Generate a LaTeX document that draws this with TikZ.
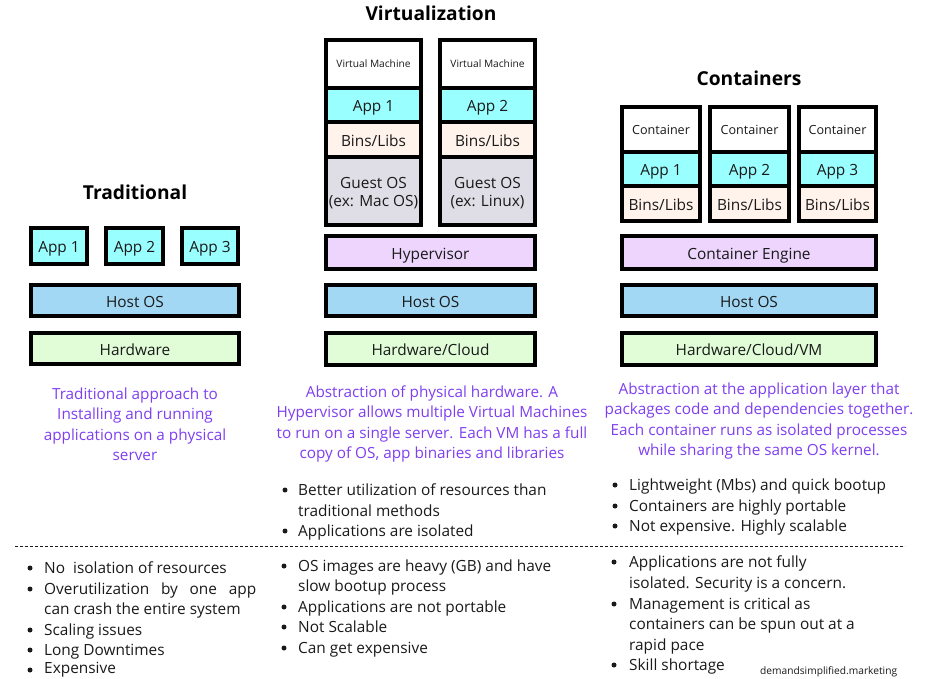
\documentclass[tikz,border=0pt]{standalone}
\usepackage{fontspec}
\setmainfont{Open Sans}
\definecolor{txt}{HTML}{1A1A1A}
\definecolor{purp}{HTML}{7F3FF0}
\definecolor{appc}{HTML}{99FFFF}
\definecolor{hostc}{HTML}{A3D8F5}
\definecolor{hwc}{HTML}{E1FDD8}
\definecolor{binc}{HTML}{FFF3EB}
\definecolor{guestc}{HTML}{DFDEE6}
\definecolor{hypc}{HTML}{EDD5FD}
\tikzset{
  boxbase/.style={draw=black, line width=4pt, inner sep=0pt, outer sep=0pt, text=txt, align=center,
    font=\fontsize{15.4}{18}\selectfont},
  box/.style={boxbase, text height=13pt, text depth=0pt},
  ttl/.style={font=\fontsize{19.2}{22}\selectfont\bfseries, text=black, inner sep=0pt},
  desc/.style={font=\fontsize{15.3}{20.5}\selectfont, text=purp, align=center, inner sep=0pt},
  itm/.style={font=\fontsize{15.4}{18}\selectfont, text=txt, anchor=west, inner sep=0pt,
    text height=10.5pt, text depth=3pt, yshift=-3pt},
  dot/.style={circle, fill=txt, inner sep=0pt, minimum size=5pt, yshift=-1pt},
}
\begin{document}
\begin{tikzpicture}[x=1pt,y=-1pt]
\useasboundingbox[fill=white] (0,0) rectangle (926,678);

% Titles
\node[ttl] (tTrad) at (135,192) {Traditional};
\node[ttl] (tVirt) at (431,13) {Virtualization};
\node[ttl] (tCont) at (749,78) {Containers};

% Traditional stack
\node[box, fill=appc, minimum width=56pt, minimum height=36pt] (tApp1) at (59,246) {App 1};
\node[box, fill=appc, minimum width=57pt, minimum height=36pt] (tApp2) at (134.5,246) {App 2};
\node[box, fill=appc, minimum width=56pt, minimum height=36pt] (tApp3) at (210,246) {App 3};
\node[box, fill=hostc, minimum width=208pt, minimum height=31pt] (tHost) at (135,300.5) {Host OS};
\node[box, fill=hwc, minimum width=208pt, minimum height=31pt] (tHw) at (135,348.5) {Hardware};

% Virtualization stack
\node[boxbase, fill=white, minimum width=95pt, minimum height=48pt, font=\fontsize{10.2}{12}\selectfont] (vm1) at (373.5,64) {Virtual Machine};
\node[box, fill=appc, minimum width=95pt, minimum height=34pt] (vApp1) at (373.5,105) {App 1};
\node[box, fill=binc, minimum width=95pt, minimum height=35pt] (vBin1) at (373.5,139.5) {Bins/Libs};
\node[boxbase, fill=guestc, minimum width=95pt, minimum height=68pt] (vGos1) at (373.5,191) {\rule{0pt}{15pt}Guest OS\\(ex: Mac OS)};
\node[boxbase, fill=white, minimum width=95pt, minimum height=48pt, font=\fontsize{10.2}{12}\selectfont] (vm2) at (487.5,64) {Virtual Machine};
\node[box, fill=appc, minimum width=95pt, minimum height=34pt] (vApp2) at (487.5,105) {App 2};
\node[box, fill=binc, minimum width=95pt, minimum height=35pt] (vBin2) at (487.5,139.5) {Bins/Libs};
\node[boxbase, fill=guestc, minimum width=95pt, minimum height=68pt] (vGos2) at (487.5,191) {\rule{0pt}{15pt}Guest OS\\(ex: Linux)};
\node[box, fill=hypc, minimum width=209pt, minimum height=33pt] (vHyp) at (430.5,252.5) {Hypervisor};
\node[box, fill=hostc, minimum width=209pt, minimum height=31pt] (vHost) at (430.5,300.5) {Host OS};
\node[box, fill=hwc, minimum width=209pt, minimum height=32pt] (vHw) at (430.5,349) {Hardware/Cloud};

% Containers stack
\node[boxbase, fill=white, minimum width=78pt, minimum height=45pt, font=\fontsize{12.6}{15}\selectfont] (c1) at (661,129.5) {Container};
\node[box, fill=appc, minimum width=78pt, minimum height=34pt] (cApp1) at (661,169) {App 1};
\node[box, fill=binc, minimum width=78pt, minimum height=35pt] (cBin1) at (661,203.5) {Bins/Libs};
\node[boxbase, fill=white, minimum width=79pt, minimum height=45pt, font=\fontsize{12.6}{15}\selectfont] (c2) at (749.5,129.5) {Container};
\node[box, fill=appc, minimum width=79pt, minimum height=34pt] (cApp2) at (749.5,169) {App 2};
\node[box, fill=binc, minimum width=79pt, minimum height=35pt] (cBin2) at (749.5,203.5) {Bins/Libs};
\node[boxbase, fill=white, minimum width=77pt, minimum height=45pt, font=\fontsize{12.6}{15}\selectfont] (c3) at (837.5,129.5) {Container};
\node[box, fill=appc, minimum width=77pt, minimum height=34pt] (cApp3) at (837.5,169) {App 3};
\node[box, fill=binc, minimum width=77pt, minimum height=35pt] (cBin3) at (837.5,203.5) {Bins/Libs};
\node[box, fill=hypc, minimum width=254pt, minimum height=33pt] (cEng) at (749,252.5) {Container Engine};
\node[box, fill=hostc, minimum width=254pt, minimum height=31pt] (cHost) at (749,300.5) {Host OS};
\node[box, fill=hwc, minimum width=254pt, minimum height=32pt] (cHw) at (749,349) {Hardware/Cloud/VM};

% Descriptions
\node[desc] (dTrad) at (135,424.5) {Traditional approach to\\Installing and running\\applications on a physical\\server};
\node[desc] (dVirt) at (432,424) {Abstraction of physical hardware. A\\Hypervisor allows multiple Virtual Machines\\to run on a single server. Each VM has a full\\copy of OS, app binaries and libraries};
\node[desc] (dCont) at (759,421) {Abstraction at the application layer that\\packages code and dependencies together.\\Each container runs as isolated processes\\while sharing the same OS kernel.};

% Pros
\node[dot] (pv1) at (285,489) {};
\node[itm] (pvt1) at (298,489) {Better utilization of resources than};
\node[itm] (pvt1b) at (298,510) {traditional methods};
\node[dot] (pv2) at (285,530) {};
\node[itm] (pvt2) at (298,530) {Applications are isolated};

\node[dot] (pc1) at (615,484) {};
\node[itm] (pct1) at (629,484) {Lightweight (Mbs) and quick bootup};
\node[dot] (pc2) at (615,505) {};
\node[itm] (pct2) at (629,505) {Containers are highly portable};
\node[dot] (pc3) at (615,525) {};
\node[itm] (pct3) at (629,525) {Not expensive. Highly scalable};

% Divider
\coordinate (dl) at (15,546);
\coordinate (dr) at (905,546);
\draw[txt, line width=0.8pt, dash pattern=on 3pt off 2pt] (dl) -- (dr);

% Cons traditional
\node[dot] (ct1) at (30,567) {};
\node[itm] (ctt1) at (44,567) {No\ \ isolation of resources};
\node[dot] (ct2) at (30,588) {};
\node[itm] (ctt2) at (44,588) {\hbox to 212pt{Overutilization\hfill by\hfill one\hfill app}};
\node[itm] (ctt2b) at (44,608) {can crash the entire system};
\node[dot] (ct3) at (30,629) {};
\node[itm] (ctt3) at (44,629) {Scaling issues};
\node[dot] (ct4) at (30,649) {};
\node[itm] (ctt4) at (44,649) {Long Downtimes};
\node[dot] (ct5) at (30,669) {};
\node[itm] (ctt5) at (44,667) {Expensive};

% Cons virtualization
\node[dot] (cv1) at (284,565) {};
\node[itm] (cvt1) at (298,565) {OS images are heavy (GB) and have};
\node[itm] (cvt1b) at (298,585) {slow bootup process};
\node[dot] (cv2) at (284,606) {};
\node[itm] (cvt2) at (298,606) {Applications are not portable};
\node[dot] (cv3) at (284,626) {};
\node[itm] (cvt3) at (298,626) {Not Scalable};
\node[dot] (cv4) at (284,647) {};
\node[itm] (cvt4) at (298,647) {Can get expensive};

% Cons containers
\node[dot] (cc1) at (614,561) {};
\node[itm] (cct1) at (629,561) {Applications are not fully};
\node[itm] (cct1b) at (629,582) {isolated. Security is a concern.};
\node[dot] (cc2) at (614,603) {};
\node[itm] (cct2) at (629,603) {Management is critical as};
\node[itm] (cct2b) at (629,623) {containers can be spun out at a};
\node[itm] (cct2c) at (629,644) {rapid pace};
\node[dot] (cc3) at (614,664) {};
\node[itm] (cct3) at (629,664) {Skill shortage};

% Watermark
\node[font=\fontsize{10.2}{12}\selectfont, text=txt, anchor=west, inner sep=0pt] (wm) at (760,672) {demandsimplified.marketing};
\end{tikzpicture}
\end{document}
